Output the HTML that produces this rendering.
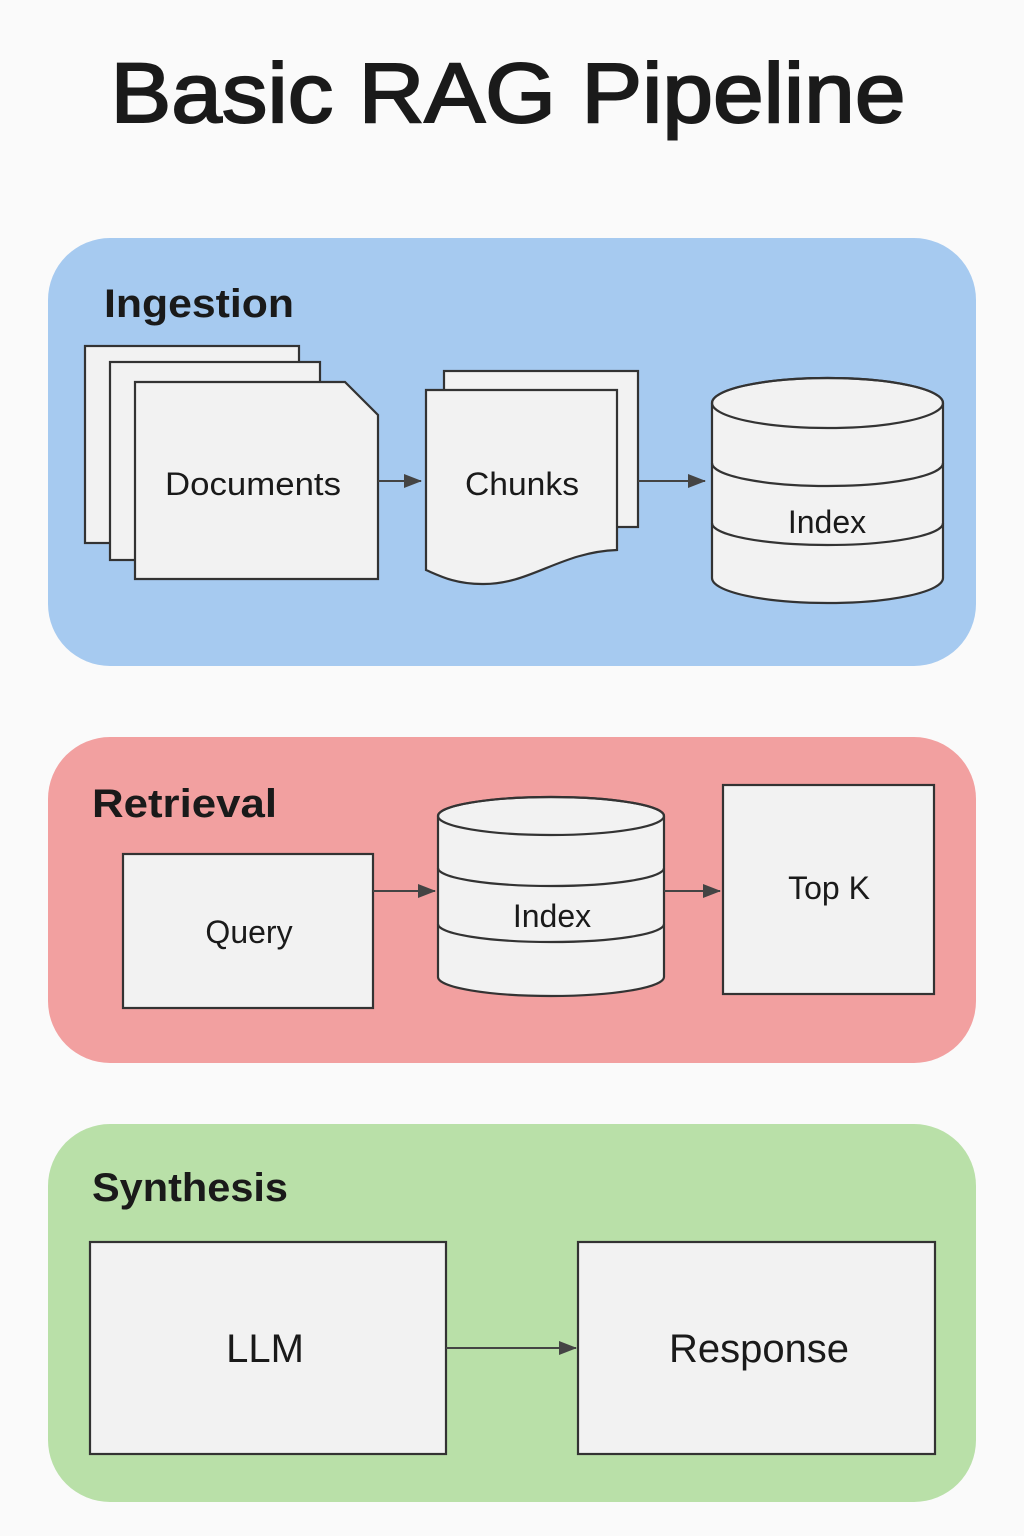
<!DOCTYPE html>
<html><head><meta charset="utf-8"><style>
html,body{margin:0;padding:0;background:#fafafa;}
svg{display:block;}
text{font-family:"Liberation Sans","DejaVu Sans",sans-serif;fill:#1a1a1a;}
</style></head><body>
<svg width="1024" height="1536" viewBox="0 0 1024 1536" xmlns="http://www.w3.org/2000/svg">
<defs>
<marker id="ahb" markerWidth="18" markerHeight="14" refX="17" refY="7" orient="auto" markerUnits="userSpaceOnUse">
<path d="M0,0 L18,7 L0,14 z" fill="#444"/>
</marker>
</defs>
<rect width="1024" height="1536" fill="#fafafa"/>
<text x="508" y="122" font-size="84" text-anchor="middle" stroke="#1a1a1a" stroke-width="2" textLength="795" lengthAdjust="spacingAndGlyphs">Basic RAG Pipeline</text>

<!-- Ingestion -->
<rect x="48" y="238" width="928" height="428" rx="62" fill="#a6caf0"/>
<text x="104" y="317" font-size="40" font-weight="bold" textLength="190" lengthAdjust="spacingAndGlyphs">Ingestion</text>
<g stroke="#333" stroke-width="2.2" fill="#f2f2f2">
<rect x="85" y="346" width="214" height="197"/>
<rect x="110" y="362" width="210" height="198"/>
<path d="M135,382 L345,382 L378,415 L378,579 L135,579 Z"/>
<rect x="444" y="371" width="194" height="156"/>
<path d="M426,390 L617,390 L617,550 C560,552 530,585 482,584 C455,584 440,576 426,570 Z"/>
<path d="M712,403 L712,578 A115.5,25 0 0 0 943,578 L943,403 A115.5,25 0 0 0 712,403 Z"/>
<ellipse cx="827.5" cy="403" rx="115.5" ry="25" fill="none"/>
<path d="M712,463 A115.5,23 0 0 0 943,463" fill="none"/>
<path d="M712,523 A115.5,22 0 0 0 943,523" fill="none"/>
</g>
<text x="253" y="495" font-size="32" text-anchor="middle" textLength="176" lengthAdjust="spacingAndGlyphs">Documents</text>
<text x="522" y="495" font-size="32" text-anchor="middle" textLength="114" lengthAdjust="spacingAndGlyphs">Chunks</text>
<text x="827" y="533" font-size="32" text-anchor="middle">Index</text>
<g stroke="#444" stroke-width="2">
<line x1="378" y1="481" x2="421" y2="481" marker-end="url(#ahb)"/>
<line x1="638" y1="481" x2="705" y2="481" marker-end="url(#ahb)"/>
</g>

<!-- Retrieval -->
<rect x="48" y="737" width="928" height="326" rx="62" fill="#f2a0a0"/>
<text x="92" y="817" font-size="40" font-weight="bold" textLength="185" lengthAdjust="spacingAndGlyphs">Retrieval</text>
<g stroke="#333" stroke-width="2.2" fill="#f2f2f2">
<rect x="123" y="854" width="250" height="154"/>
<path d="M438,816 L438,977 A113,19 0 0 0 664,977 L664,816 A113,19 0 0 0 438,816 Z"/>
<ellipse cx="551" cy="816" rx="113" ry="19" fill="none"/>
<path d="M438,868 A113,18 0 0 0 664,868" fill="none"/>
<path d="M438,924 A113,18 0 0 0 664,924" fill="none"/>
<rect x="723" y="785" width="211" height="209"/>
</g>
<text x="249" y="943" font-size="32" text-anchor="middle">Query</text>
<text x="552" y="927" font-size="32" text-anchor="middle">Index</text>
<text x="829" y="899" font-size="32" text-anchor="middle">Top K</text>
<g stroke="#444" stroke-width="2">
<line x1="373" y1="891" x2="435" y2="891" marker-end="url(#ahb)"/>
<line x1="664" y1="891" x2="720" y2="891" marker-end="url(#ahb)"/>
</g>

<!-- Synthesis -->
<rect x="48" y="1124" width="928" height="378" rx="62" fill="#b9e0a8"/>
<text x="92" y="1201" font-size="40" font-weight="bold" textLength="196" lengthAdjust="spacingAndGlyphs">Synthesis</text>
<g stroke="#333" stroke-width="2.2" fill="#f2f2f2">
<rect x="90" y="1242" width="356" height="212"/>
<rect x="578" y="1242" width="357" height="212"/>
</g>
<text x="265" y="1362" font-size="40" text-anchor="middle">LLM</text>
<text x="759" y="1362" font-size="40" text-anchor="middle">Response</text>
<line x1="446" y1="1348" x2="576" y2="1348" stroke="#444" stroke-width="2" marker-end="url(#ahb)"/>
</svg>
</body></html>
